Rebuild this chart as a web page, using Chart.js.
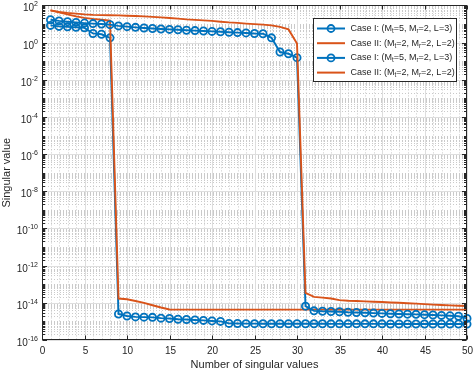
<!DOCTYPE html>
<html><head><meta charset="utf-8">
<script src="https://cdn.jsdelivr.net/npm/chart.js@4"></script>
<style>html,body{margin:0;padding:0;background:#fff;}canvas{display:block;}</style>
</head><body>
<canvas id="c" width="474" height="372"></canvas>
<script>
// ---------- data ----------
const singularIndex = [1,2,3,4,5,6,7,8,9,10,11,12,13,14,15,16,17,18,19,20,21,22,23,24,25,26,27,28,29,30,31,32,33,34,35,36,37,38,39,40,41,42,43,44,45,46,47,48,49,50];

// Case I (first), drops after 8 singular values
const caseI_a = [8.4,7.4,7.0,6.6,6.2,3.1,2.8,1.8,
  2.5e-15,1.95e-15,1.75e-15,1.7e-15,1.65e-15,1.5e-15,1.44e-15,1.3e-15,1.26e-15,1.2e-15,1.13e-15,1.06e-15,
  1.0e-15,7.8e-16,7.7e-16,7.6e-16,7.6e-16,7.5e-16,7.5e-16,7.5e-16,7.5e-16,7.5e-16,
  7.5e-16,7.5e-16,7.5e-16,7.4e-16,7.4e-16,7.4e-16,7.4e-16,7.4e-16,7.4e-16,7.4e-16,
  7.3e-16,7.3e-16,7.3e-16,7.3e-16,7.3e-16,7.3e-16,7.3e-16,7.3e-16,7.3e-16,7.2e-16];

// Case II (first), drops after 8 singular values
const caseII_a = [54,42,33,25.6,21.3,18.8,17,15,
  1.7e-14,1.55e-14,1.26e-14,1.0e-14,7.4e-15,5.6e-15,4.4e-15,4.3e-15,4.3e-15,4.3e-15,4.3e-15,4.3e-15,
  4.3e-15,4.3e-15,4.3e-15,4.3e-15,4.3e-15,4.3e-15,4.3e-15,4.3e-15,4.3e-15,4.3e-15,
  4.3e-15,4.3e-15,4.3e-15,4.3e-15,4.3e-15,4.3e-15,4.3e-15,4.3e-15,4.3e-15,4.3e-15,
  4.3e-15,4.3e-15,4.3e-15,4.3e-15,4.3e-15,4.3e-15,4.3e-15,4.3e-15,4.3e-15,4.3e-15];

// Case I (second), drops after 30 singular values
const caseI_b = [17,14.7,13.3,12.2,11.2,10.5,9.9,9.2,7.9,7.2,
  6.6,6.1,5.7,5.4,5.1,4.9,4.6,4.4,4.2,4.0,
  3.8,3.6,3.45,3.3,3.1,3.0,1.8,0.31,0.25,0.155,
  6.6e-15,3.7e-15,3.5e-15,3.4e-15,3.3e-15,3.1e-15,3.0e-15,2.9e-15,2.8e-15,2.7e-15,
  2.6e-15,2.5e-15,2.45e-15,2.4e-15,2.3e-15,2.2e-15,2.1e-15,2.0e-15,1.9e-15,1.45e-15];

// Case II (second), drops after 30 singular values
const caseII_b = [54,45,39.5,36,33,31,30,29.5,29,28,
  27,25.6,24,22.6,21,19.5,17.7,16.6,15.6,14.7,
  13.3,12.2,11.5,10.5,9.8,9.2,8.4,7.0,5.1,0.9,
  3.4e-14,2.1e-14,1.9e-14,1.7e-14,1.4e-14,1.3e-14,1.25e-14,1.2e-14,1.15e-14,1.1e-14,
  1.05e-14,1.0e-14,9.5e-15,9.0e-15,8.5e-15,8.0e-15,7.6e-15,7.3e-15,7.0e-15,6.8e-15];

const xTickLabels = [0,5,10,15,20,25,30,35,40,45,50];
const yTickExponents = [-16,-14,-12,-10,-8,-6,-4,-2,0,2];
const legendLabels = [
  'Case I: (M_t=5, M_r=2, L=3)',
  'Case II: (M_t=2, M_r=2, L=2)',
  'Case I: (M_t=5, M_r=2, L=3)',
  'Case II: (M_t=2, M_r=2, L=2)'
];
const xAxisTitle = 'Number of singular values';
const yAxisTitle = 'Singular value';

// ---------- styling ----------
const BLUE = '#0072BD', ORANGE = '#D95319', AX = '#262626';
const FONT = '"Liberation Sans", Arial, Helvetica, sans-serif';
function pts(arr){ return arr.map((v,i)=>({x: singularIndex[i], y: v})); }

function seg(ctx,x1,y1,x2,y2){ ctx.beginPath(); ctx.moveTo(x1,y1); ctx.lineTo(x2,y2); ctx.stroke(); }
function drawRich(ctx, text, x, y, size){
  let cx = x;
  const parts = text.split(/(_.)/);
  for (const p of parts){
    if (!p) continue;
    if (p[0]==='_' && p.length===2){
      ctx.font = (size*0.7)+'px '+FONT;
      ctx.fillText(p[1], cx, y+size*0.3);
      cx += ctx.measureText(p[1]).width;
    } else {
      ctx.font = size+'px '+FONT;
      ctx.fillText(p, cx, y);
      cx += ctx.measureText(p).width;
    }
  }
}

const matlabAxes = {
  id: 'matlabAxes',
  beforeDatasetsDraw(chart){
    const {ctx, chartArea:a, scales:{x, y}} = chart;
    ctx.save();
    ctx.lineWidth = 1;
    // minor grid (dotted)
    ctx.strokeStyle = '#cacaca';
    ctx.setLineDash([1,2]);
    const x0 = xTickLabels[0], x1 = xTickLabels[xTickLabels.length-1];
    for (let i = x0+1; i < x1; i++){
      if (xTickLabels.includes(i)) continue;
      const px = Math.round(x.getPixelForValue(i))+0.5;
      seg(ctx, px, a.top, px, a.bottom);
    }
    const eMin = yTickExponents[0], eMax = yTickExponents[yTickExponents.length-1];
    for (let e = eMin; e < eMax; e++){
      for (let k = 1; k <= 9; k++){
        if (k===1 && yTickExponents.includes(e)) continue;
        const py = Math.round(y.getPixelForValue(k*Math.pow(10,e)))+0.5;
        seg(ctx, a.left, py, a.right, py);
      }
    }
    // major grid (solid)
    ctx.setLineDash([]);
    ctx.strokeStyle = '#dedede';
    for (const t of xTickLabels){
      const px = Math.round(x.getPixelForValue(t))+0.5;
      seg(ctx, px, a.top, px, a.bottom);
    }
    for (const e of yTickExponents){
      const py = Math.round(y.getPixelForValue(Math.pow(10,e)))+0.5;
      seg(ctx, a.left, py, a.right, py);
    }
    ctx.restore();
  },
  afterDraw(chart){
    const {ctx, chartArea:a, scales:{x, y}} = chart;
    ctx.save();
    ctx.strokeStyle = AX; ctx.fillStyle = AX; ctx.lineWidth = 1;
    const L = Math.round(a.left)+0.5, R = Math.round(a.right)-0.5, T = Math.round(a.top)+0.5, B = Math.round(a.bottom)-0.5;
    ctx.strokeRect(L, T, R-L, B-T);
    // x ticks
    ctx.textAlign = 'center'; ctx.textBaseline = 'middle';
    ctx.font = '10px '+FONT;
    for (const t of xTickLabels){
      const px = Math.round(x.getPixelForValue(t))+0.5;
      seg(ctx, px, B, px, B-4);
      seg(ctx, px, T, px, T+4);
      ctx.fillText(String(t), px, a.bottom+11);
    }
    // y minor ticks
    const eMin = yTickExponents[0], eMax = yTickExponents[yTickExponents.length-1];
    for (let e = eMin; e < eMax; e++){
      for (let k = 1; k <= 9; k++){
        if (k===1 && yTickExponents.includes(e)) continue;
        const py = Math.round(y.getPixelForValue(k*Math.pow(10,e)))+0.5;
        seg(ctx, L, py, L+2.5, py);
        seg(ctx, R, py, R-2.5, py);
      }
    }
    // y major ticks + labels
    for (const e of yTickExponents){
      const py = Math.round(y.getPixelForValue(Math.pow(10,e)))+0.5;
      seg(ctx, L, py, L+4.5, py);
      seg(ctx, R, py, R-4.5, py);
      const ex = String(e);
      ctx.font = '7px '+FONT;
      const ew = ctx.measureText(ex).width;
      ctx.textAlign = 'left';
      ctx.fillText(ex, a.left-4-ew, py-1.5);
      ctx.font = '10px '+FONT;
      ctx.textAlign = 'right';
      ctx.fillText('10', a.left-4-ew, py+2.5);
    }
    // axis titles
    ctx.font = '11px '+FONT;
    ctx.textAlign = 'center';
    ctx.fillText(xAxisTitle, (a.left+a.right)/2, 365);
    ctx.save();
    ctx.translate(7, (a.top+a.bottom)/2);
    ctx.rotate(-Math.PI/2);
    ctx.fillText(yAxisTitle, 0, 0);
    ctx.restore();

    // legend
    const bx = 313.5, by = 18.5, bw = 143, bh = 63;
    ctx.fillStyle = '#ffffff';
    ctx.fillRect(bx, by, bw, bh);
    ctx.strokeStyle = AX;
    ctx.strokeRect(bx, by, bw, bh);
    const rows = [28.5, 43.2, 57.9, 72.6];
    chart.data.datasets.forEach((ds, i) => {
      const ry = rows[i];
      ctx.strokeStyle = ds.borderColor;
      ctx.lineWidth = 2;
      seg(ctx, 317, ry, 345, ry);
      if (ds.pointRadius > 0){
        ctx.lineWidth = 1.8;
        ctx.beginPath(); ctx.arc(331, ry, 3.5, 0, Math.PI*2); ctx.stroke();
      }
      ctx.fillStyle = AX;
      ctx.textAlign = 'left'; ctx.textBaseline = 'middle';
      drawRich(ctx, legendLabels[i], 350.5, ry, 9);
    });
    ctx.restore();
  }
};

const mk = (data, color, marker, order) => ({
  data: pts(data),
  borderColor: color,
  backgroundColor: color,
  borderWidth: 1.9,
  pointRadius: marker ? 3.6 : 0,
  pointHoverRadius: marker ? 3.6 : 0,
  pointBorderWidth: 1.8,
  pointBorderColor: color,
  pointBackgroundColor: 'rgba(0,0,0,0)',
  tension: 0,
  clip: false,
  order: order
});

new Chart(document.getElementById('c'), {
  type: 'line',
  data: {
    datasets: [
      mk(caseI_a, BLUE, true, 4),
      mk(caseII_a, ORANGE, false, 3),
      mk(caseI_b, BLUE, true, 2),
      mk(caseII_b, ORANGE, false, 1)
    ]
  },
  options: {
    responsive: false,
    animation: false,
    devicePixelRatio: 1,
    layout: { padding: { left: 42, right: 7, top: 5, bottom: 32 } },
    scales: {
      x: { type: 'linear', min: 0, max: 50, display: false },
      y: { type: 'logarithmic', min: 1e-16, max: 1e2, display: false }
    },
    plugins: { legend: { display: false }, tooltip: { enabled: false } }
  },
  plugins: [matlabAxes]
});
</script>
</body></html>
